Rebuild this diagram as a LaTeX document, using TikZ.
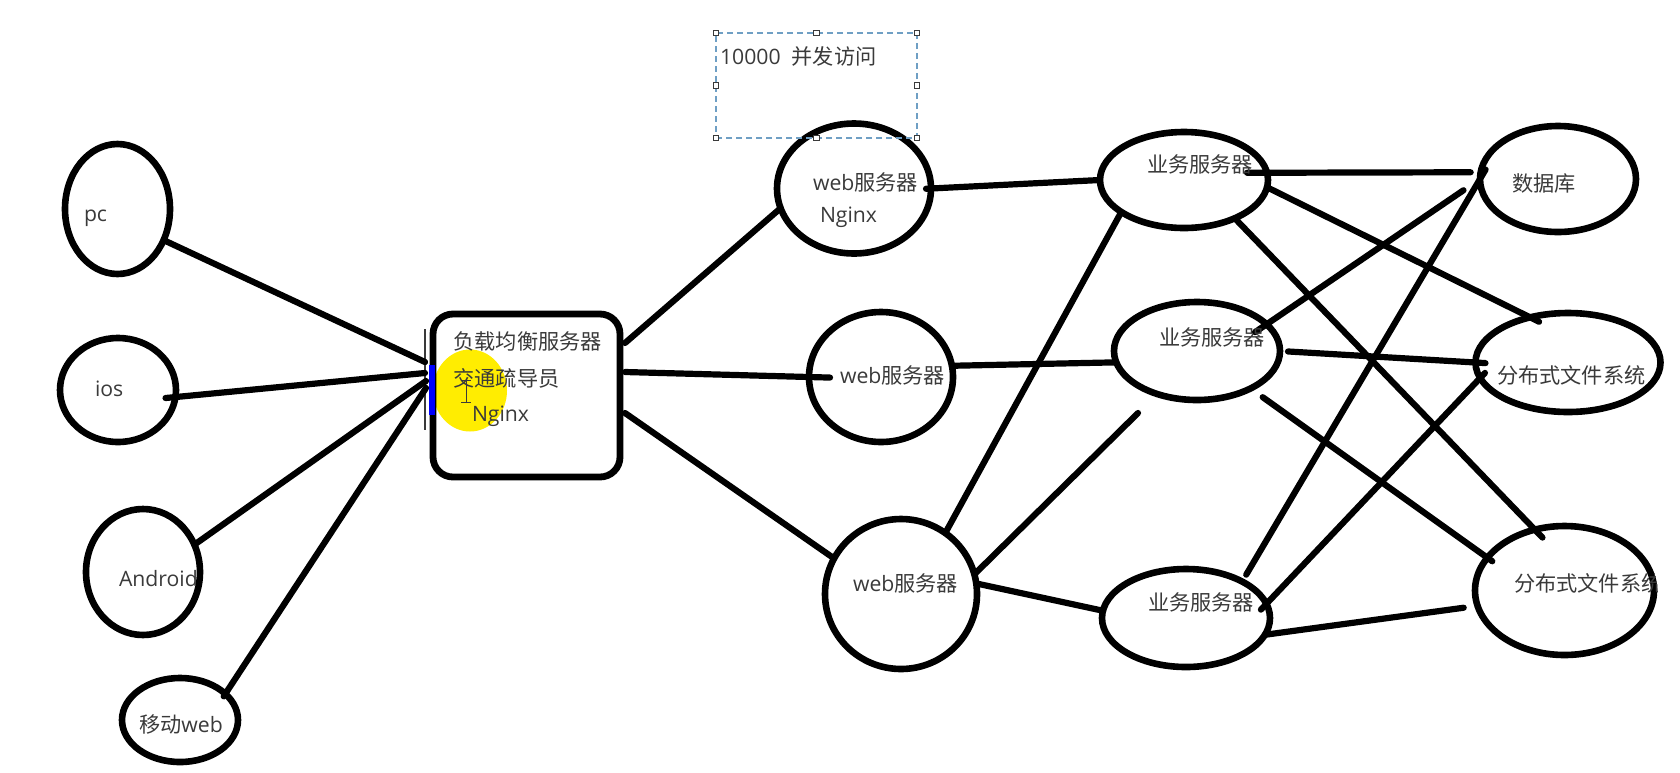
\documentclass[tikz,border=0pt]{standalone}
\usepackage{fontspec}
\usetikzlibrary{shapes.geometric}
\setmainfont{Open Sans}
\newfontfamily\cjk{Noto Sans CJK SC}
\definecolor{ink}{HTML}{3A3A3A}
\definecolor{selblue}{HTML}{6F9FC4}
\tikzset{
ball/.style={ellipse,draw,line width=6.6,inner sep=0,outer sep=0},
lab/.style={anchor=base west,inner sep=0,outer sep=0,text=ink,font=\fontsize{21.2}{25}\selectfont},
wire/.style={line width=6.2,line cap=round},
handle/.style={rectangle,draw=ink,fill=white,line width=.9,minimum size=5.5,inner sep=0}
}
\begin{document}
\begin{tikzpicture}[x=1pt,y=-1pt]
\useasboundingbox (0,0) rectangle (1680,772);
\fill[yellow!95!orange] (470,390.5) ellipse [x radius=37,y radius=41];
\path node (pc) at (117.5,209) [ball,minimum width=105,minimum height=130] {}
node (ios) at (118,390) [ball,minimum width=116,minimum height=104] {}
node (android) at (143,572) [ball,minimum width=114,minimum height=126] {}
node (mobile) at (180,720) [ball,minimum width=116,minimum height=84] {}
node (lb) at (526.5,395.5) [rectangle,rounded corners=20,draw,line width=6.8,inner sep=0,outer sep=0,minimum width=187,minimum height=163] {}
node (web1) at (854,188.5) [ball,minimum width=154,minimum height=130] {}
node (web2) at (881,377) [ball,minimum width=144,minimum height=130] {}
node (web3) at (901,594) [ball,minimum width=152,minimum height=150] {}
node (biz1) at (1184,180) [ball,minimum width=168,minimum height=96] {}
node (biz2) at (1197,351) [ball,minimum width=166,minimum height=98] {}
node (biz3) at (1186,618) [ball,minimum width=168,minimum height=98] {}
node (db) at (1558,179) [ball,minimum width=156,minimum height=106] {}
node (fs1) at (1568,362.5) [ball,minimum width=185,minimum height=99] {}
node (fs2) at (1564.5,590.5) [ball,minimum width=179,minimum height=129] {}
node (sel) at (816.5,85.5) [rectangle,draw=selblue,line width=1.3,dash pattern=on 6pt off 4pt,inner sep=0,outer sep=0,minimum width=201,minimum height=105] {};
\coordinate (web3end) at (1138,413);
\foreach \a/\n in {north west/h1,north/h2,north east/h3,west/h4,east/h5,south west/h6,south/h7,south east/h8}
\node (\n) at (sel.\a) [handle] {};
\fill[blue] (429,365) rectangle (435,415);
\draw[ink,line width=1.2] (425,329) -- (425,430);
\draw[ink,line width=1] (461,380) -- (471,380) (466,380) -- (466,402) (461,402) -- (471,402);
\draw[wire] (pc.-34) -- ([shift={(-8,-33.5)}]lb.west);
\draw[wire,shorten <=-10pt] (ios.-7) -- ([shift={(-8,-22.5)}]lb.west);
\draw[wire] (android.28.6) -- ([shift={(-7,-14.5)}]lb.west);
\draw[wire,shorten <=-3pt] (mobile.30) -- ([shift={(-7,-7.5)}]lb.west);
\draw[wire] ([shift={(5,-52.5)}]lb.east) -- (web1.195);
\draw[wire,shorten >=-21pt] ([shift={(5,-23.5)}]lb.east) -- (web2.180);
\draw[wire] ([shift={(5,17.5)}]lb.east) -- (web3.152.5);
\draw[wire,shorten <=-5pt] (web1.0) -- (biz1.180);
\draw[wire] (web2.9) -- (biz2.188.6);
\draw[wire] (web3.54.9) -- (biz1.207);
\draw[wire] (web3.15) -- (web3end);
\draw[wire] (web3.8) -- (biz3.175);
\draw[wire,shorten <=-20pt,shorten >=10pt] (biz1.5) -- (db.175);
\draw[wire,shorten >=-10pt] (biz1.-5) -- (fs1.130.9);
\draw[wire,shorten >=-11pt] (biz1.-37) -- (fs2.116.3);
\draw[wire,shorten <=-14pt,shorten >=20pt] (biz2.21) -- (db.180);
\draw[wire,shorten <=8pt,shorten >=-10pt] (biz2.0) -- (fs1.180);
\draw[wire,shorten <=15pt,shorten >=-6pt] (biz2.-35.3) -- (fs2.157.4);
\draw[wire,shorten <=8pt,shorten >=-11pt] (biz3.33.9) -- (db.180);
\draw[wire,shorten <=-8pt,shorten >=-7pt] (biz3.10) -- (fs1.190);
\draw[wire,shorten >=14pt] (biz3.-12.4) -- (fs2.190);
\path node (pclab) at (84,221) [lab] {pc}
node (ioslab) at (95,396) [lab] {ios}
node (mobilelab) at (139,732) [lab] {{\cjk 移动}web}
node (lblab1) at (453.5,349) [lab] {\cjk 负载均衡服务器}
node (lblab2) at (453.5,386) [lab] {\cjk 交通疏导员}
node (lblab3) at (472,421) [lab] {Nginx}
node (sellab) at (720,64) [lab] {10000\ \ {\cjk 并发访问}}
node (web1lab) at (813,190) [lab] {web{\cjk 服务器}}
node (web1sub) at (820,222) [lab] {Nginx}
node (web2lab) at (840,383) [lab] {web{\cjk 服务器}}
node (web3lab) at (853,591) [lab] {web{\cjk 服务器}}
node (biz1lab) at (1147,172) [lab] {\cjk 业务服务器}
node (biz2lab) at (1159,345) [lab] {\cjk 业务服务器}
node (biz3lab) at (1148,610) [lab] {\cjk 业务服务器}
node (dblab) at (1512,191) [lab] {\cjk 数据库}
node (fs1lab) at (1497,383) [lab] {\cjk 分布式文件系统};
\begin{scope}
\clip (143,572) ellipse [x radius=57,y radius=63];
\node (androidlab) at (119,586) [lab] {Android};
\end{scope}
\begin{scope}
\clip (1564.5,590.5) ellipse [x radius=93,y radius=64.5];
\node (fs2lab) at (1514,591) [lab] {\cjk 分布式文件系统};
\end{scope}
\end{tikzpicture}
\end{document}
